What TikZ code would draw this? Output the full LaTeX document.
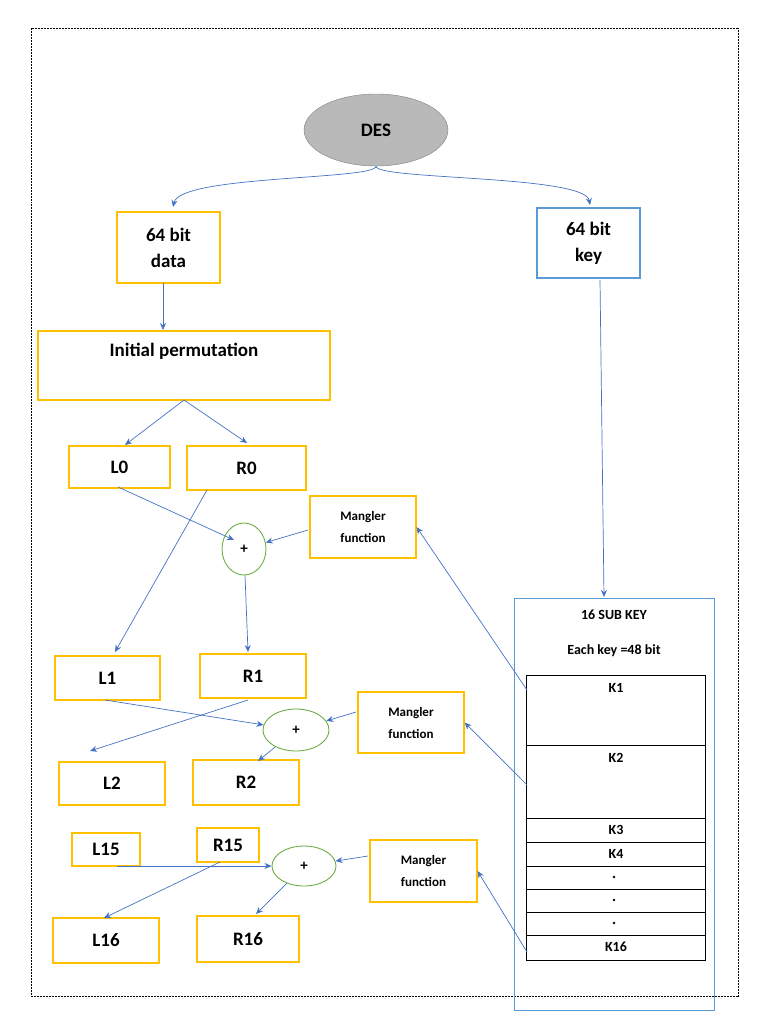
\documentclass[tikz,border=0pt]{standalone}
\usepackage{fontspec}
\setmainfont{Carlito}
\usetikzlibrary{arrows.meta,shapes.geometric}
\definecolor{org}{HTML}{FFC000}
\definecolor{blu}{HTML}{5B9BD5}
\definecolor{arr}{HTML}{4472C4}
\definecolor{grn}{HTML}{70AD47}
\begin{document}
\begin{tikzpicture}[x=1pt,y=-1pt,
  ob/.style={draw=org,line width=1.1pt,font=\bfseries\fontsize{19}{22}\selectfont,align=center},
  mb/.style={draw=org,line width=1.1pt,font=\bfseries\fontsize{13}{22}\selectfont,align=center},
  xo/.style={draw=grn,ellipse,line width=0.9pt,font=\bfseries\fontsize{15}{16}\selectfont,inner sep=0pt},
  ar/.style={draw=arr,line width=0.7pt,-{Stealth[length=7pt,width=6pt]}},
  kt/.style={font=\bfseries\fontsize{14}{16}\selectfont}]
\useasboundingbox (0,0) rectangle (768,1024);
\draw[line width=0.6pt,dash pattern=on 1pt off 0.5pt] (31,28) rectangle (738,996);
\node[ellipse,draw=gray,fill=gray!55,minimum width=144,minimum height=72,font=\bfseries\fontsize{19}{22}\selectfont] (des) at (376,130) {DES};
\node[ob,minimum width=103,minimum height=71] (data) at (168.5,247.5) {64 bit\\[4pt]data};
\node[ob,draw=blu,minimum width=103,minimum height=70] (key) at (588.5,243) {64 bit\\[4pt]key};
\draw[ar] (des.south) .. controls (376,180) and (180,175) .. (173,207);
\draw[ar] (des.south) .. controls (376,180) and (585,175) .. (590,205);
\node[ob,minimum width=292,minimum height=69] (ip) at (184,365.5) {};
\node[ob,draw=none] at (184,351) {Initial permutation};
\draw[ar] (163,283) -- (163,330);
\node[ob,minimum width=101,minimum height=42] (l0) at (119.5,467) {L0};
\node[ob,minimum width=119,minimum height=44] (r0) at (246.5,468) {R0};
\coordinate (ipb) at (184,400);
\draw[ar] (ipb) -- (125,445);
\draw[ar] (ipb) -- (247,443);
\node[xo,minimum width=44,minimum height=52] (x1) at (244,549) {+};
\node[mb,minimum width=106,minimum height=62] (m1) at (363,527) {Mangler\\function};
\node[ob,minimum width=105,minimum height=44] (l1) at (107.5,678) {L1};
\node[ob,minimum width=106,minimum height=44] (r1) at (253,676) {R1};
\draw[ar] (118,487) -- (234,540);
\draw[ar] (308,530) -- (x1);
\draw[ar] (207,490) -- (115,652);
\draw[ar] (x1) -- (248,652);
% key side
\node[draw=blu,line width=0.8pt,minimum width=200,minimum height=412] (sk) at (614,804) {};
\node[kt] at (614,615) {16 SUB KEY};
\node[kt] at (614,651) {Each key =48 bit};
\draw[ar] (600,280) -- (604,597);
\draw[line width=0.7pt] (526,675) rectangle (705,960);
\foreach \y in {745,818,842,866,889,912,935} \draw[line width=0.7pt] (526,\y) -- (705,\y);
\node[kt] (k1) at (616,688) {K1};
\node[kt] (k2) at (616,758) {K2};
\node[kt] at (616,830) {K3};
\node[kt] at (616,854) {K4};
\foreach \y in {877,900,923} \fill (614,\y) circle (1.4);
\node[kt] at (616,947) {K16};
\draw[ar] (527,690) -- (m1.east);
% round 2
\node[xo,minimum width=66,minimum height=42] (x2) at (296,730) {+};
\node[mb,minimum width=106,minimum height=61] (m2) at (411,722.5) {Mangler\\function};
\node[ob,minimum width=106,minimum height=43] (l2) at (112,783.5) {L2};
\node[ob,minimum width=106,minimum height=45] (r2) at (246,782.5) {R2};
\draw[ar] (527,785) -- (m2.east);
\draw[ar] (356,712) -- (x2);
\draw[ar] (105,700) -- (x2);
\draw[ar] (248,700) -- (90,751);
\draw[ar] (x2) -- (258,761);
% round 16
\node[ob,minimum width=68,minimum height=33] (l15) at (106,849.5) {L15};
\node[ob,minimum width=62,minimum height=34] (r15) at (228,845) {R15};
\node[xo,minimum width=64,minimum height=40] (x3) at (304,866) {+};
\node[mb,minimum width=107,minimum height=62] (m3) at (423.5,871) {Mangler\\function};
\node[ob,minimum width=106,minimum height=45] (l16) at (106,940.5) {L16};
\node[ob,minimum width=102,minimum height=46] (r16) at (248,939) {R16};
\draw[ar] (527,952) -- (m3.east);
\draw[ar] (368,856) -- (x3);
\draw[ar] (117,866) -- (x3);
\draw[ar] (220,862) -- (104,918);
\draw[ar] (x3) -- (256,914);
\end{tikzpicture}
\end{document}
